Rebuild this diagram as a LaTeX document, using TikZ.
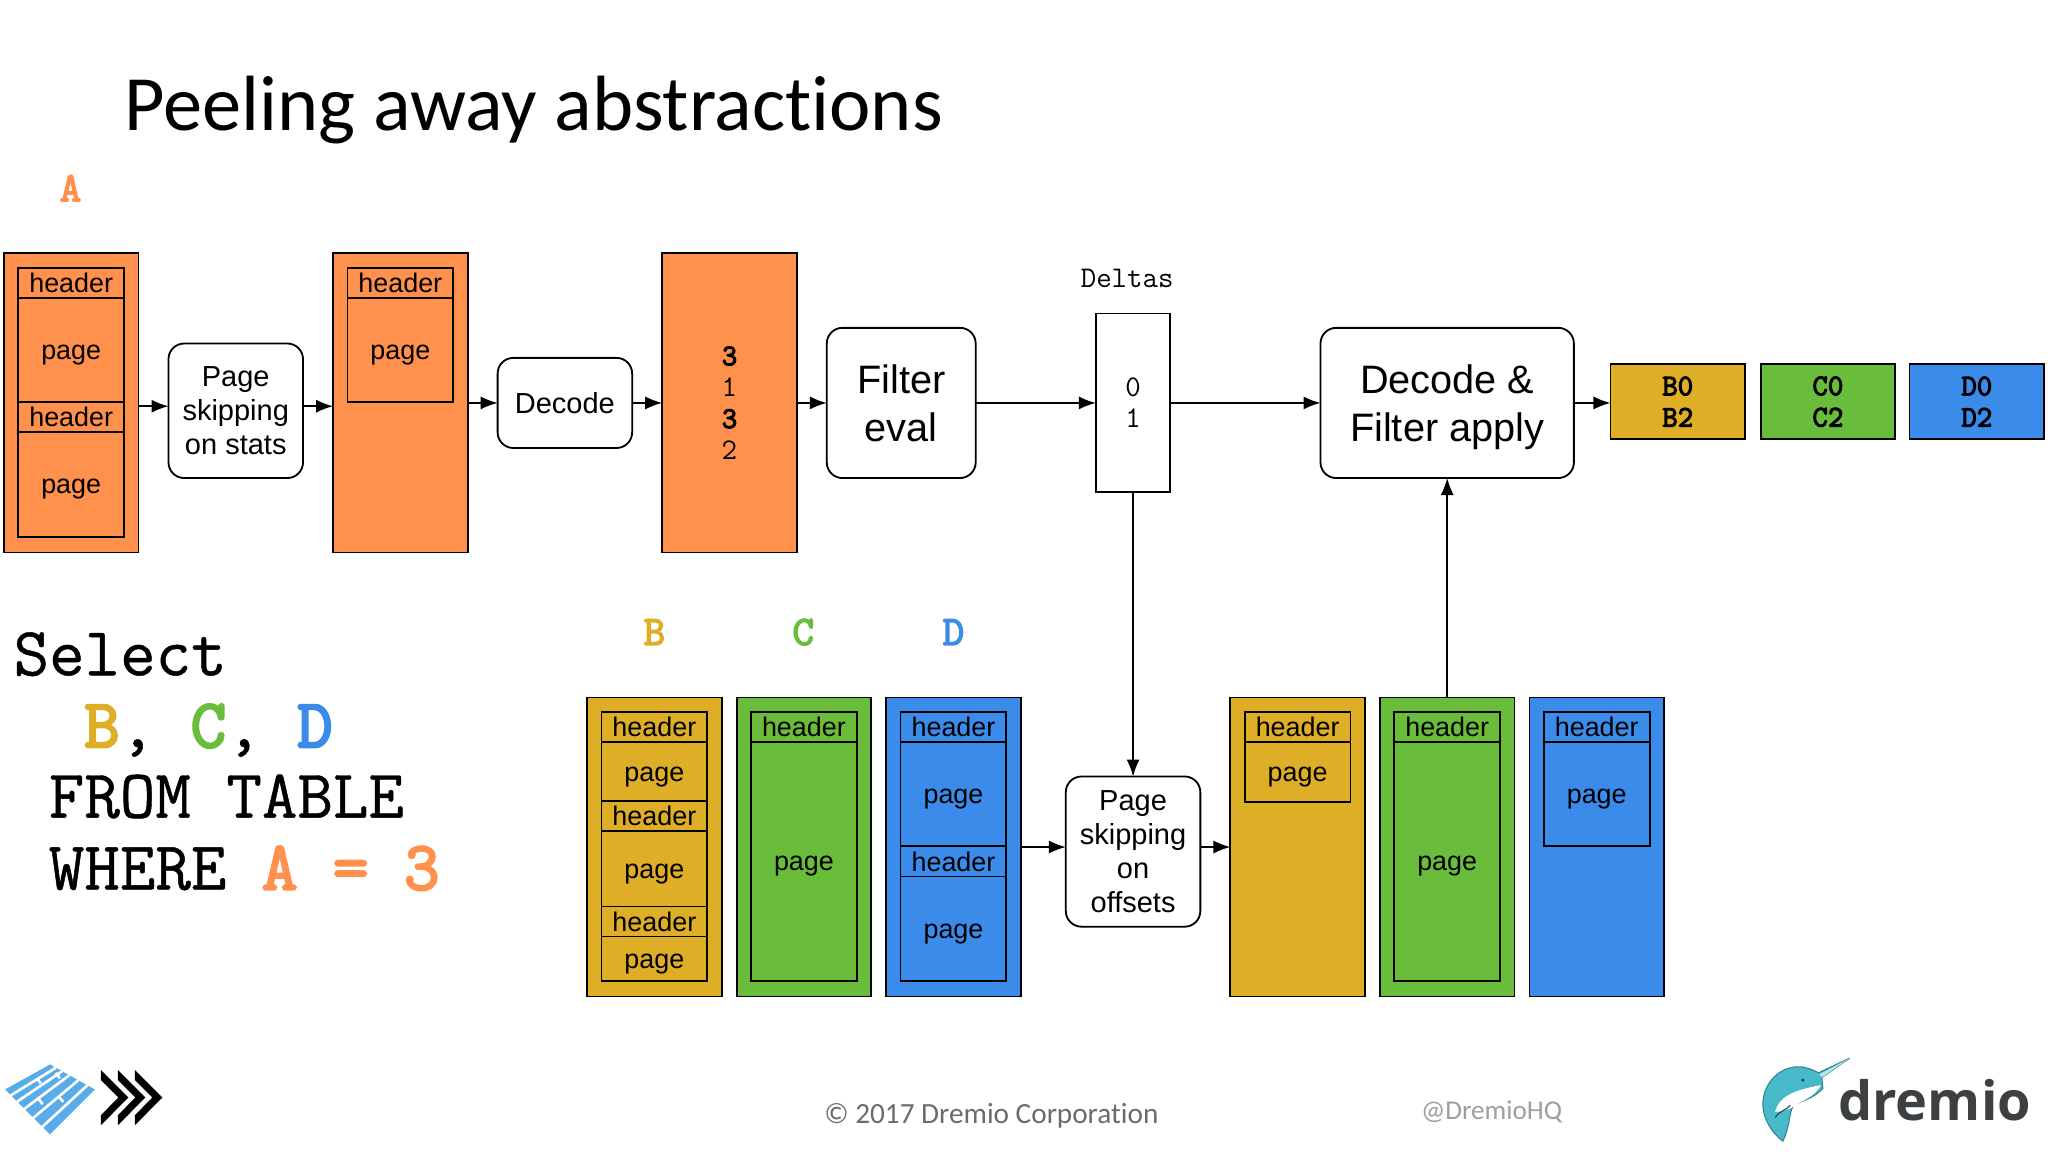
\documentclass[tikz,border=0pt]{standalone}
\usepackage{fontspec}
\setmainfont{Liberation Sans}
\newfontfamily\titlefont{Carlito}[RawFeature={-liga;-clig;-dlig}]
\newfontfamily\wordfont{Open Sans}
\newfontfamily\monofont{Latin Modern Mono}[FakeBold=0.7]
\newfontfamily\monoplain{Latin Modern Mono}
\newfontfamily\monoheavy{Latin Modern Mono}[FakeBold=3.5]
\usetikzlibrary{positioning,arrows.meta}
\definecolor{colA}{HTML}{FF914D}
\definecolor{colB}{HTML}{DFAE27}
\definecolor{colC}{HTML}{6ABD3A}
\definecolor{colD}{HTML}{3B8CEA}
\definecolor{logoBlue}{HTML}{58ACEA}
\definecolor{logoTeal}{HTML}{48B9C9}
\definecolor{logoDark}{HTML}{3D4043}
\begin{document}
\begin{tikzpicture}[
    x=0.5pt, y=-0.5pt,
    column/.style={rectangle, draw, line width=0.7pt, outer sep=0pt,
        minimum width=51.5pt, minimum height=114.5pt},
    head/.style={rectangle, draw, line width=0.7pt, outer sep=0pt, inner sep=0pt,
        minimum width=40.5pt, minimum height=11.5pt, font=\fontsize{10.3}{12}\selectfont,
        text height=7.4pt, text depth=0pt},
    part/.style={rectangle, draw, line width=0.7pt, outer sep=0pt, inner sep=0pt,
        minimum width=40.5pt, font=\fontsize{10.3}{12}\selectfont,
        text height=9.4pt, text depth=2.2pt},
    stage/.style={rectangle, draw, line width=0.7pt, rounded corners=6pt, fill=white,
        outer sep=0pt, inner sep=0pt, minimum width=51.5pt, align=center,
        font=\fontsize{11.1}{13}\selectfont},
    bigstage/.style={stage, font=\fontsize{15.2}{18.4}\selectfont},
    digits/.style={font=\fontsize{11.5}{12}\selectfont\monoplain, align=center},
    result/.style={rectangle, draw, line width=0.7pt, outer sep=0pt, inner sep=0pt,
        minimum width=51.5pt, minimum height=28.5pt, align=center,
        font=\fontsize{11.5}{12}\selectfont\monoheavy,
        execute at begin node=\rule{0pt}{10.5pt}},
    letter/.style={font=\fontsize{16}{18}\selectfont\monoheavy},
    query/.style={anchor=base west, inner sep=0pt, font=\fontsize{26.4}{27}\selectfont\monofont},
    flow/.style={-{Latex[length=6.5pt,width=5pt]}, line width=0.6pt}
]
\useasboundingbox (0,0) rectangle (1568,882);

% title and labels
\node (TitleText) [anchor=base west, inner sep=0pt, font=\fontsize{30}{34}\selectfont\titlefont] at (95,100) {Peeling away abstractions};
\node (LabelA) [letter, text=colA] at (54,144) {A};
\node (LabelB) [letter, text=colB] at (501,484) {B};
\node (LabelC) [letter, text=colC] at (615,484) {C};
\node (LabelD) [letter, text=colD] at (730,484) {D};
\node (LabelDeltas) [digits] at (863,213) {Deltas};

% query
\node (QuerySelect) [query] at (10,517) {Select};
\node (QueryColumns) [query] at (64,572) {{\monoheavy\color{colB}B}, {\monoheavy\color{colC}C}, {\monoheavy\color{colD}D}};
\node (QueryFrom) [query] at (37,626) {FROM TABLE};
\node (QueryWhere) [query] at (37,681) {WHERE {\monoheavy\color{colA}A = 3}};

% upper row
\node (ColA1) [column, fill=colA] at (54.5,308.5) {};
\node (HeadA1a) [head, below=5.5pt of ColA1.north] {header};
\node (PageA1a) [part, below=0pt of HeadA1a, minimum height=40pt] {page};
\node (HeadA1b) [head, below=0pt of PageA1a] {header};
\node (PageA1b) [part, below=0pt of HeadA1b, minimum height=40pt] {page};

\node (SkipStats) [stage, minimum height=51.5pt] at (180.5,314.5) {Page\\skipping\\on stats};

\node (ColA2) [column, fill=colA] at (306.5,308.5) {};
\node (HeadA2) [head, below=5.5pt of ColA2.north] {header};
\node (PageA2) [part, below=0pt of HeadA2, minimum height=40pt] {page};

\node (DecodeStep) [stage, minimum height=34.5pt] at (432.5,308.5) {Decode};

\node (ColA3) [column, fill=colA, digits] at (558.5,308.5) {{\monoheavy 3}\\1\\{\monoheavy 3}\\2};

\node (FilterEval) [bigstage, minimum width=57pt, minimum height=57.5pt] at (690,308.5) {Filter\\eval};

\node (Deltas) [column, minimum width=28.5pt, minimum height=68.5pt, digits] at (867.5,308.5) {0\\1};

\node (DecodeFilter) [bigstage, minimum width=97pt, minimum height=57.5pt] at (1108,308.5) {Decode \&\\\raisebox{0pt}[\height][0pt]{Filter apply}};

\node (ResultB) [result, fill=colB] at (1284.5,307.5) {B0\\B2};
\node (ResultC) [result, fill=colC] at (1399.5,307.5) {C0\\C2};
\node (ResultD) [result, fill=colD] at (1513.5,307.5) {D0\\D2};

% lower row
\node (ColB) [column, fill=colB] at (501,648.5) {};
\node (HeadBa) [head, below=5.5pt of ColB.north] {header};
\node (PageBa) [part, below=0pt of HeadBa, minimum height=22.75pt] {page};
\node (HeadBb) [head, below=0pt of PageBa] {header};
\node (PageBb) [part, below=0pt of HeadBb, minimum height=28.75pt] {page};
\node (HeadBc) [head, below=0pt of PageBb] {header};
\node (PageBc) [part, below=0pt of HeadBc, minimum height=17pt] {page};

\node (ColC) [column, fill=colC] at (615.5,648.5) {};
\node (HeadC) [head, below=5.5pt of ColC.north] {header};
\node (PageC) [part, below=0pt of HeadC, minimum height=91.5pt] {page};

\node (ColD) [column, fill=colD] at (730,648.5) {};
\node (HeadDa) [head, below=5.5pt of ColD.north] {header};
\node (PageDa) [part, below=0pt of HeadDa, minimum height=40pt] {page};
\node (HeadDb) [head, below=0pt of PageDa] {header};
\node (PageDb) [part, below=0pt of HeadDb, minimum height=40pt] {page};

\node (SkipOffsets) [stage, minimum height=57.5pt] at (867.5,652) {Page\\skipping\\on\\offsets};

\node (ColB2) [column, fill=colB] at (993.5,648.5) {};
\node (HeadB2) [head, below=5.5pt of ColB2.north] {header};
\node (PageB2) [part, below=0pt of HeadB2, minimum height=23pt] {page};

\node (ColC2) [column, fill=colC] at (1108,648.5) {};
\node (HeadC2) [head, below=5.5pt of ColC2.north] {header};
\node (PageC2) [part, below=0pt of HeadC2, minimum height=91.5pt] {page};

\node (ColD2) [column, fill=colD] at (1222.5,648.5) {};
\node (HeadD2) [head, below=5.5pt of ColD2.north] {header};
\node (PageD2) [part, below=0pt of HeadD2, minimum height=40pt] {page};

% connectors
\coordinate (RowStats) at (0,311);
\draw[flow] (ColA1.east |- RowStats) -- (SkipStats.west |- RowStats);
\draw[flow] (SkipStats.east |- RowStats) -- (ColA2.west |- RowStats);
\draw[flow] (ColA2.east) -- (DecodeStep.west);
\draw[flow] (DecodeStep.east) -- (ColA3.west);
\draw[flow] (ColA3.east) -- (FilterEval.west);
\draw[flow] (FilterEval.east) -- (Deltas.west);
\draw[flow] (Deltas.east) -- (DecodeFilter.west);
\draw[flow] (DecodeFilter.east) -- (ResultB.west |- DecodeFilter.east);
\draw[flow] (Deltas.south) -- (SkipOffsets.north);
\draw[flow] (ColD.east) -- (SkipOffsets.west |- ColD.east);
\draw[flow] (SkipOffsets.east |- ColB2.west) -- (ColB2.west);
\draw[flow] (ColC2.north) -- (DecodeFilter.south);

% footer
\node (FooterCopy) [anchor=base, inner sep=0pt, text=black!58, font=\fontsize{11.2}{13}\selectfont\titlefont] at (759,860) {© 2017 Dremio Corporation};
\node (FooterHandle) [anchor=base, inner sep=0pt, text=black!38, font=\fontsize{10.4}{12}\selectfont\titlefont] at (1142,857) {@DremioHQ};
\node (LogoWord) [anchor=base west, inner sep=0pt, text=logoDark, font=\fontsize{20.7}{24}\selectfont\wordfont\bfseries] at (1407,858) {dremio};

% left logo
\begin{scope}[shift={(0,788.7)}, scale=.2552]
  \fill[logoBlue] (15,178) -- (150,103) -- (285,178) -- (150,313) -- cycle;
  \foreach \k in {.13,.27,.43,.63,.83}
    \draw[white, line width=1pt] ({15+135*\k},{178+135*\k}) -- ({150+135*\k},{103+75*\k});
  \draw[white, line width=1pt] (112,145) -- (122,160);
  \draw[white, line width=1pt] (168,128) -- (180,145);
  \draw[white, line width=1pt] (115,205) -- (128,222);
  \draw[white, line width=1pt] (175,198) -- (190,215);
  \foreach \x in {303,354,405}
    \fill[black] (\x,120) -- ({\x+82},202) -- (\x,285) -- (\x,255) -- ({\x+52},202) -- (\x,150) -- cycle;
\end{scope}

% narwhal
\begin{scope}[shift={(1301.7,788.7)}, scale=.2552]
  \draw[logoTeal!70!black, fill=logoTeal, line width=0.4pt]
    (248,333) .. controls (215,310) and (185,260) .. (188,215)
    .. controls (192,160) and (235,110) .. (295,110)
    .. controls (320,110) and (340,120) .. (355,128)
    -- (448,84) -- (365,142) -- (368,175)
    .. controls (340,205) and (300,215) .. (280,225)
    .. controls (265,250) and (270,290) .. (248,333) -- cycle;
  \fill[white] (225,245) .. controls (235,200) and (280,180) .. (362,165)
    .. controls (345,200) and (300,215) .. (270,235)
    .. controls (255,240) and (240,245) .. (225,245) -- cycle;
  \fill[black!70!logoTeal] (308,150) circle (5);
  \draw[black!60!logoTeal, line width=0.4pt] (225,262) .. controls (240,240) and (260,240) .. (270,225);
  \fill[white!60!logoTeal] (358,132) -- (448,84) -- (365,142) -- cycle;
\end{scope}
\end{tikzpicture}
\end{document}
